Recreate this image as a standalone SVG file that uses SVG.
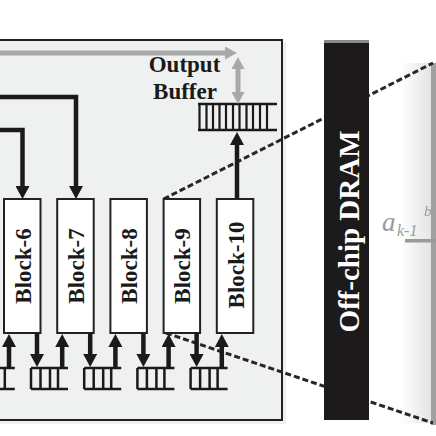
<svg xmlns="http://www.w3.org/2000/svg" width="436" height="436" viewBox="0 0 436 436">
<style>
.blk{fill:#ffffff;stroke:#222;stroke-width:2}
.lbl{font-family:"Liberation Serif","Times New Roman",serif;font-weight:bold;fill:#1a1a1a}
.wire{fill:none;stroke:#1a1a1a;stroke-width:4.5}
.gwire{fill:none;stroke:#a8a8a8;stroke-width:5}
.buf{fill:none;stroke:#1a1a1a;stroke-width:2.5}
.dash{fill:none;stroke:#262626;stroke-width:3;stroke-dasharray:6 3}
.math{font-family:"Liberation Serif","Times New Roman",serif;font-style:italic;fill:#9a9a9a}
</style>
<defs>
<marker id="ah" markerUnits="userSpaceOnUse" markerWidth="14" markerHeight="14" viewBox="0 0 14 14" refX="1" refY="7" orient="auto">
<path d="M0,0 L13,7 L0,14 Z" fill="#1a1a1a"/>
</marker>
<marker id="gh" markerUnits="userSpaceOnUse" markerWidth="13" markerHeight="13" viewBox="0 0 13 13" refX="1" refY="6.5" orient="auto">
<path d="M0,0 L12,6.5 L0,13 Z" fill="#a8a8a8"/>
</marker>
<marker id="ghs" markerUnits="userSpaceOnUse" markerWidth="13" markerHeight="13" viewBox="0 0 13 13" refX="11" refY="6.5" orient="auto">
<path d="M12,0 L0,6.5 L12,13 Z" fill="#a8a8a8"/>
</marker>
<linearGradient id="shade" x1="0" y1="0" x2="1" y2="0">
<stop offset="0" stop-color="#ffffff"/>
<stop offset="1" stop-color="#e4e4e4"/>
</linearGradient>
</defs>
<rect x="0" y="0" width="436" height="436" fill="#ffffff"/>
<g id="right-panel">
<rect x="400" y="63" width="31" height="360" fill="url(#shade)"/>
<rect x="431" y="63" width="5" height="362" fill="#a0a0a0"/>
</g>
<g id="chip">
<rect x="-1" y="42" width="287" height="382" fill="#e6e8e8" opacity="0.6"/>
<rect x="-3" y="40" width="285" height="380" fill="#eff1f1" stroke="#222" stroke-width="2"/>
</g>
<g id="zoom-lines">
<line class="dash" x1="163.6" y1="199" x2="433" y2="63"/>
<line class="dash" x1="166" y1="333" x2="433" y2="423"/>
</g>
<g id="dram">
<rect x="324" y="40" width="45" height="380" fill="#1c1a1a"/>
<rect x="324" y="40" width="45" height="3" fill="#8a8a8a"/>
<text class="lbl" x="359" y="231.5" font-size="29" style="fill:#ffffff" text-anchor="middle" transform="rotate(-90 359 231.5)">Off-chip DRAM</text>
</g>
<g id="output-buffer">
<text class="lbl" x="184.5" y="72" font-size="23" text-anchor="middle">Output</text>
<text class="lbl" x="185" y="99" font-size="23" text-anchor="middle">Buffer</text>
<path class="buf" d="M198,104 H277 M198,130 H277"/>
<path d="M199.5,104 V130 M206.5,104 V130 M213,104 V130 M219.5,104 V130 M226,104 V130 M233,104 V130 M239.5,104 V130 M246.5,104 V130 M253,104 V130 M260,104 V130 M267,104 V130" stroke="#1a1a1a" stroke-width="2.2" fill="none"/>
</g>
<g id="block-6"><rect class="blk" x="4" y="199" width="36.5" height="134"/><text class="lbl" x="30.7" y="266" font-size="23" text-anchor="middle" transform="rotate(-90 30.7 266)">Block-6</text></g>
<g id="block-7"><rect class="blk" x="57.2" y="199" width="36.5" height="134"/><text class="lbl" x="83.9" y="266" font-size="23" text-anchor="middle" transform="rotate(-90 83.9 266)">Block-7</text></g>
<g id="block-8"><rect class="blk" x="110.4" y="199" width="36.5" height="134"/><text class="lbl" x="137.1" y="266" font-size="23" text-anchor="middle" transform="rotate(-90 137.1 266)">Block-8</text></g>
<g id="block-9"><rect class="blk" x="163.6" y="199" width="36.5" height="134"/><text class="lbl" x="190.3" y="266" font-size="23" text-anchor="middle" transform="rotate(-90 190.3 266)">Block-9</text></g>
<g id="block-10"><rect class="blk" x="216.8" y="199" width="36.5" height="134"/><text class="lbl" x="243.5" y="265" font-size="23" text-anchor="middle" transform="rotate(-90 243.5 265)">Block-10</text></g>
<g id="buffer-5-6"><path class="buf" d="M-22.2,368 H14.8 M-22.2,389 H14.8 M-12.7,368 V389 M-3.2,368 V389 M4.8,368 V389"/></g>
<g id="buffer-6-7"><path class="buf" d="M31,368 H68 M31,389 H68 M31,368 V389 M40.5,368 V389 M50,368 V389 M58,368 V389"/></g>
<g id="buffer-7-8"><path class="buf" d="M84.2,368 H121.2 M84.2,389 H121.2 M84.2,368 V389 M93.7,368 V389 M103.2,368 V389 M111.2,368 V389"/></g>
<g id="buffer-8-9"><path class="buf" d="M137.4,368 H174.4 M137.4,389 H174.4 M137.4,368 V389 M146.9,368 V389 M156.4,368 V389 M164.4,368 V389"/></g>
<g id="buffer-9-10"><path class="buf" d="M190.6,368 H227.6 M190.6,389 H227.6 M190.6,368 V389 M200.1,368 V389 M209.6,368 V389 M217.6,368 V389"/></g>
<g id="connectors">
<path class="gwire" d="M-3,53 H226" marker-end="url(#gh)"/>
<line class="gwire" x1="238" y1="68" x2="238" y2="93" marker-start="url(#ghs)" marker-end="url(#gh)"/>
<path class="wire" d="M-3,97 H76 V187" marker-end="url(#ah)"/>
<path class="wire" d="M-3,130 H22.5 V187" marker-end="url(#ah)"/>
<line class="wire" x1="237" y1="199" x2="237" y2="144" marker-end="url(#ah)"/>
<line class="wire" x1="9" y1="368" x2="9" y2="346" marker-end="url(#ah)"/>
<line class="wire" x1="62.2" y1="368" x2="62.2" y2="346" marker-end="url(#ah)"/>
<line class="wire" x1="115.4" y1="368" x2="115.4" y2="346" marker-end="url(#ah)"/>
<line class="wire" x1="168.6" y1="368" x2="168.6" y2="346" marker-end="url(#ah)"/>
<line class="wire" x1="221.8" y1="368" x2="221.8" y2="346" marker-end="url(#ah)"/>
<line class="wire" x1="37" y1="333" x2="37" y2="355" marker-end="url(#ah)"/>
<line class="wire" x1="90.2" y1="333" x2="90.2" y2="355" marker-end="url(#ah)"/>
<line class="wire" x1="143.4" y1="333" x2="143.4" y2="355" marker-end="url(#ah)"/>
<line class="wire" x1="196.6" y1="333" x2="196.6" y2="355" marker-end="url(#ah)"/>
</g>
<g id="math-label">
<text class="math" x="382" y="231" font-size="27">a</text>
<text class="math" x="397" y="236" font-size="16">k-1</text>
<text class="math" x="424" y="216" font-size="15">b</text>
<rect x="405" y="239" width="31" height="3.5" fill="#9a9a9a"/>
</g>
</svg>
